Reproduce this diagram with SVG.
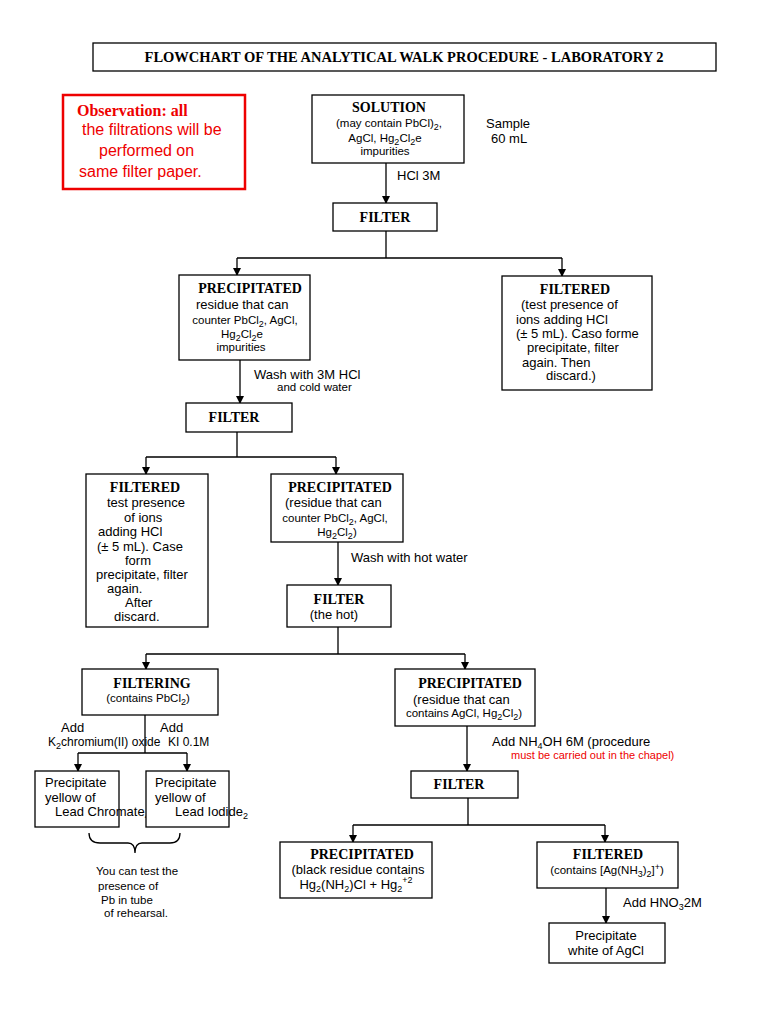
<svg xmlns="http://www.w3.org/2000/svg" width="768" height="1024" viewBox="0 0 768 1024">
<style>
rect{fill:#fff;stroke:#000;stroke-width:1.3}
text{font-family:"Liberation Sans",Arial,sans-serif;font-size:13px;fill:#000}
.h{font-family:"Liberation Serif","Times New Roman",serif;font-weight:bold;font-size:14px;text-anchor:middle}
.s{font-size:11.5px}
.c{text-anchor:middle}
.r{fill:#e00}
.l{fill:none;stroke:#000;stroke-width:1.3}
.a{fill:none;stroke:#000;stroke-width:1.3;marker-end:url(#ar)}
</style>
<defs><marker id="ar" markerWidth="8" markerHeight="8" refX="7" refY="4" orient="auto" markerUnits="userSpaceOnUse"><path d="M0,0L8,4L0,8z" fill="#000"/></marker></defs>
<rect width="768" height="1024" style="fill:#fff;stroke:none"/>
<g id="title"><rect x="93" y="43" width="623" height="28"/><text class="h" x="404" y="62" style="font-size:14.5px">FLOWCHART OF THE ANALYTICAL WALK PROCEDURE - LABORATORY 2</text></g>
<g id="obs"><rect x="63" y="95" width="182" height="94" style="stroke:#e00;stroke-width:2.5"/>
<text x="77" y="116" class="r" style="font-family:'Liberation Serif',serif;font-weight:bold;font-size:16px">Observation: all</text>
<text x="82" y="135" class="r" style="font-size:16px">the filtrations will be</text>
<text x="99" y="156" class="r" style="font-size:16px">performed on</text>
<text x="79" y="177" class="r" style="font-size:16px">same filter paper.</text></g>
<g id="connectors">
<path class="a" d="M386,163V203"/>
<path class="l" d="M386,231V258M237,258H562"/><path class="a" d="M237,258V275"/><path class="a" d="M562,258V276"/>
<path class="a" d="M240,360V403"/>
<path class="l" d="M237,432V457M146,457H336"/><path class="a" d="M146,457V474"/><path class="a" d="M336,457V474"/>
<path class="a" d="M338,542V585"/>
<path class="l" d="M338,627V654M146,654H465"/><path class="a" d="M146,654V669"/><path class="a" d="M465,654V669"/>
<path class="l" d="M145,715V753M78,753H187"/><path class="a" d="M78,753V771"/><path class="a" d="M187,753V771"/>
<path class="a" d="M467,726V771"/>
<path class="l" d="M468,798V825M353,825H605"/><path class="a" d="M353,825V842"/><path class="a" d="M605,825V842"/>
<path class="a" d="M606,888V923"/>
<path class="l" d="M89,833Q89,843 100,843H128Q135,843 135,853Q135,843 142,843H170Q180,843 180,833"/>
</g>
<g id="labels">
<text x="486" y="128">Sample</text><text x="491" y="143">60 mL</text>
<text x="397" y="180">HCl 3M</text>
<text x="254" y="379">Wash with 3M HCl</text><text x="277" y="391" class="s">and cold water</text>
<text x="351" y="562">Wash with hot water</text>
<text x="61" y="732">Add</text><text x="48" y="746" style="font-size:12px">K<tspan font-size="9" dy="3">2</tspan><tspan dy="-3">chromium(II) oxide</tspan></text>
<text x="160" y="732">Add</text><text x="168" y="746" style="font-size:12px">KI 0.1M</text>
<text x="96" y="875" class="s">You can test the</text><text x="98" y="890" class="s">presence of</text><text x="101" y="904" class="s">Pb in tube</text><text x="104" y="917" class="s">of rehearsal.</text>
<text x="492" y="746">Add NH<tspan font-size="9" dy="3">4</tspan><tspan dy="-3">OH 6M (procedure</tspan></text>
<text x="511" y="759" class="r" style="font-size:11px">must be carried out in the chapel)</text>
<text x="623" y="907">Add HNO<tspan font-size="9" dy="3">3</tspan><tspan dy="-3">2M</tspan></text>
</g>
<g id="solution"><rect x="312" y="95" width="152" height="68"/><text class="h" x="389" y="112">SOLUTION</text>
<text class="c s" x="389" y="127">(may contain PbCl)<tspan font-size="9" dy="3">2</tspan><tspan dy="-3">,</tspan></text>
<text class="c s" x="385" y="142">AgCl, Hg<tspan font-size="9" dy="3">2</tspan><tspan dy="-3">Cl</tspan><tspan font-size="9" dy="3">2</tspan><tspan dy="-3">e</tspan></text>
<text class="c s" x="385" y="155">impurities</text></g>
<g id="filter1"><rect x="333" y="203" width="104" height="28"/><text class="h" x="385" y="222">FILTER</text></g>
<g id="prec1"><rect x="179" y="275" width="131" height="85"/><text class="h" x="250" y="293">PRECIPITATED</text>
<text x="196" y="309">residue that can</text>
<text class="c s" x="245" y="324">counter PbCl<tspan font-size="9" dy="3">2</tspan><tspan dy="-3">, AgCl,</tspan></text>
<text class="c s" x="242" y="338">Hg<tspan font-size="9" dy="3">2</tspan><tspan dy="-3">Cl</tspan><tspan font-size="9" dy="3">2</tspan><tspan dy="-3">e</tspan></text>
<text class="c s" x="241" y="351">impurities</text></g>
<g id="filt1"><rect x="502" y="276" width="150" height="114"/><text class="h" x="575" y="294">FILTERED</text>
<text x="521" y="309">(test presence of</text><text x="516" y="324">ions adding HCl</text><text x="516" y="338">(± 5 mL). Caso forme</text>
<text x="527" y="352">precipitate, filter</text><text x="522" y="367">again. Then</text><text x="546" y="380">discard.)</text></g>
<g id="filter2"><rect x="186" y="403" width="106" height="29"/><text class="h" x="234" y="422">FILTER</text></g>
<g id="filt2"><rect x="86" y="474" width="122" height="153"/><text class="h" x="145" y="492">FILTERED</text>
<text x="107" y="507">test presence</text><text x="124" y="522">of ions</text><text x="98" y="536">adding HCl</text><text x="97" y="551">(± 5 mL). Case</text>
<text x="125" y="565">form</text><text x="96" y="579">precipitate, filter</text><text x="107" y="593">again.</text><text x="125" y="607">After</text><text x="114" y="621">discard.</text></g>
<g id="prec2"><rect x="271" y="474" width="132" height="68"/><text class="h" x="340" y="492">PRECIPITATED</text>
<text x="285" y="507">(residue that can</text>
<text class="c s" x="335" y="522">counter PbCl<tspan font-size="9" dy="3">2</tspan><tspan dy="-3">, AgCl,</tspan></text>
<text class="c s" x="337" y="536">Hg<tspan font-size="9" dy="3">2</tspan><tspan dy="-3">Cl</tspan><tspan font-size="9" dy="3">2</tspan><tspan dy="-3">)</tspan></text></g>
<g id="filter3"><rect x="287" y="585" width="104" height="42"/><text class="h" x="339" y="604">FILTER</text><text class="c" x="334" y="619">(the hot)</text></g>
<g id="filtering"><rect x="82" y="669" width="136" height="46"/><text class="h" x="152" y="688">FILTERING</text>
<text class="c s" x="148" y="702">(contains PbCl<tspan font-size="9" dy="3">2</tspan><tspan dy="-3">)</tspan></text></g>
<g id="prec3"><rect x="395" y="669" width="140" height="57"/><text class="h" x="470" y="688">PRECIPITATED</text>
<text x="413" y="704">(residue that can</text>
<text class="c s" x="464" y="717">contains AgCl, Hg<tspan font-size="9" dy="3">2</tspan><tspan dy="-3">Cl</tspan><tspan font-size="9" dy="3">2</tspan><tspan dy="-3">)</tspan></text></g>
<g id="chromate"><rect x="35" y="771" width="84" height="56"/><text x="45" y="787">Precipitate</text><text x="45" y="802">yellow of</text>
<text x="55" y="816">Lead Chromate<tspan font-size="9" dy="3">4</tspan></text></g>
<g id="iodide"><rect x="146" y="771" width="83" height="56"/><text x="155" y="787">Precipitate</text><text x="155" y="802">yellow of</text>
<text x="175" y="816">Lead Iodide<tspan font-size="9" dy="3">2</tspan></text></g>
<g id="filter4"><rect x="411" y="771" width="107" height="27"/><text class="h" x="459" y="789">FILTER</text></g>
<g id="prec4"><rect x="280" y="842" width="152" height="56"/><text class="h" x="362" y="859">PRECIPITATED</text>
<text class="c" x="358" y="874">(black residue contains</text>
<text class="c" x="356" y="889">Hg<tspan font-size="9" dy="3">2</tspan><tspan dy="-3">(NH</tspan><tspan font-size="9" dy="3">2</tspan><tspan dy="-3">)Cl + Hg</tspan><tspan font-size="9" dy="3">2</tspan><tspan font-size="9" dy="-9">+2</tspan></text></g>
<g id="filt4"><rect x="537" y="842" width="141" height="46"/><text class="h" x="608" y="859">FILTERED</text>
<text class="c s" x="607" y="874">(contains [Ag(NH<tspan font-size="9" dy="3">3</tspan><tspan dy="-3">)</tspan><tspan font-size="9" dy="3">2</tspan><tspan dy="-3">]</tspan><tspan font-size="9" dy="-4">+</tspan><tspan dy="4">)</tspan></text></g>
<g id="agcl"><rect x="549" y="923" width="116" height="40"/><text class="c" x="606" y="940">Precipitate</text><text class="c" x="606" y="955">white of AgCl</text></g>
</svg>
